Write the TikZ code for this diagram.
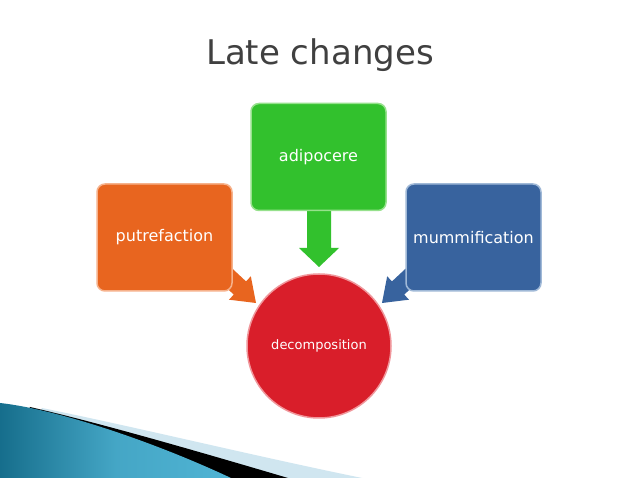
\documentclass[tikz,border=0pt]{standalone}
\usepackage{fontspec}
\setmainfont{DejaVu Sans}
\usetikzlibrary{calc}
\definecolor{orangefill}{RGB}{232,101,31}
\definecolor{orangeedge}{RGB}{246,178,140}
\definecolor{greenfill}{RGB}{50,193,45}
\definecolor{greenedge}{RGB}{150,225,140}
\definecolor{bluefill}{RGB}{56,99,158}
\definecolor{blueedge}{RGB}{160,185,215}
\definecolor{redfill}{RGB}{217,30,42}
\definecolor{rededge}{RGB}{240,150,155}
\definecolor{titlegray}{RGB}{64,64,64}
\definecolor{tealdark}{RGB}{22,110,140}
\definecolor{teallight}{RGB}{80,180,212}
\definecolor{paleblue}{RGB}{208,230,240}
\tikzset{
  boxnode/.style={rounded corners=8pt, minimum width=135pt, minimum height=107pt, line width=1.5pt, text=white, font=\fontsize{16}{19}\selectfont, inner sep=0pt},
  circnode/.style={circle, minimum size=144pt, line width=1.5pt, text=white, font=\fontsize{13}{15}\selectfont, inner sep=0pt},
}
\begin{document}
\begin{tikzpicture}[x=1pt,y=-1pt]
\useasboundingbox (0,0) rectangle (638,478);
\fill[white] (0,0) rectangle (638,478);
% bottom-left decoration
\fill[paleblue] (42,408) .. controls (140,428) and (250,455) .. (362,478) -- (0,478) -- cycle;
\fill[black] (30,407) .. controls (100,423) and (200,452) .. (288,478) -- (0,478) -- cycle;
\shade[left color=tealdark, right color=teallight, middle color=teallight!80!tealdark] (0,403) .. controls (55,409) and (150,440) .. (231,478) -- (0,478) -- cycle;
% title
\node[text=titlegray, font=\fontsize{34}{40}\selectfont] (title) at (320,55) {Late changes};
% arrows (behind boxes)
\begin{scope}[shift={(319,267)}, rotate=-90]
\fill[greenfill] (0,0) -- (-19,20) -- (-19,12) -- (-56,12) -- (-56,-12) -- (-19,-12) -- (-19,-20) -- cycle;
\end{scope}
\begin{scope}[shift={(256,303)}, rotate=-43]
\fill[orangefill] (0,0) -- (-22,16) -- (-22,9) -- (-50,9) -- (-50,-9) -- (-22,-9) -- (-22,-16) -- cycle;
\end{scope}
\begin{scope}[shift={(382,303)}, rotate=-137]
\fill[bluefill] (0,0) -- (-22,16) -- (-22,9) -- (-50,9) -- (-50,-9) -- (-22,-9) -- (-22,-16) -- cycle;
\end{scope}
% nodes
\node[boxnode, fill=greenfill, draw=greenedge] (adip) at (318.5,157) {adipocere};
\node[boxnode, fill=orangefill, draw=orangeedge] (putr) at (164.5,237.5) {putrefaction};
\node[boxnode, fill=bluefill, draw=blueedge] (mumm) at (473.5,237.5) {mummification};
\node[circnode, fill=redfill, draw=rededge] (decomp) at (319,346) {decomposition};
\end{tikzpicture}
\end{document}
